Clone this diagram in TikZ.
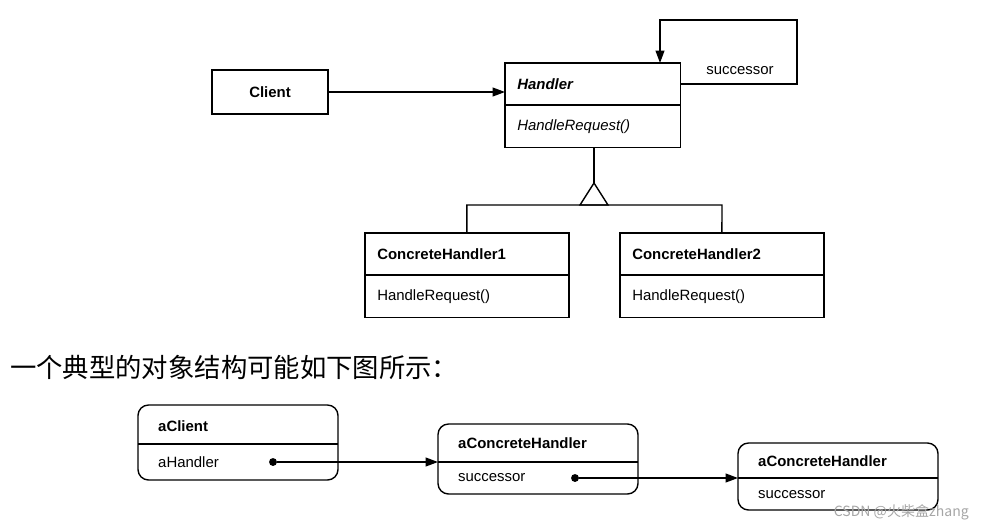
\documentclass[tikz,border=0pt]{standalone}
\usepackage{fontspec}
\setmainfont{Liberation Sans}
\newfontfamily\cjk{Noto Sans CJK SC}
\usetikzlibrary{arrows.meta,positioning}
\tikzset{
  cls/.style = {draw,thick,outer sep=0pt,minimum height=24pt,inner xsep=7pt,inner ysep=0pt,text width=#1-14pt,align=left,font=\fontsize{8.5}{10}\selectfont},
  ref/.style = {-{Triangle[length=7pt,width=5pt]},thick},
  dot/.style = {circle,fill,inner sep=0pt,minimum size=4.5pt},
}
\begin{document}
\begin{tikzpicture}[x=0.02cm,y=-0.02cm]
\useasboundingbox (0,0) rectangle (983,531);
% class structure
\node[draw,thick,minimum width=66pt,minimum height=25pt,font=\fontsize{8.5}{10}\selectfont] (client) at (270,92) {\textbf{Client}};
\node[cls=100pt,anchor=north west] (hname) at (505,63) {\textbf{\textit{Handler}}};
\node[cls=100pt,anchor=north] (hop) at (hname.south) {\textit{HandleRequest()}};
\draw[ref] (client.east) -- (client.east -| hname.west);
\coordinate (s1) at (797,88);
\coordinate (s2) at (660,20);
\draw[ref] (hname.east) -- (s1 |- hname.east) |- (s2) -- (s2 |- hname.north);
\node[font=\fontsize{8.5}{10}\selectfont] (slab) at (740,71) {successor};
\node[cls=116pt,anchor=north west] (c1name) at (365,233) {\textbf{ConcreteHandler1}};
\node[cls=116pt,anchor=north] (c1op) at (c1name.south) {HandleRequest()};
\node[cls=116pt,anchor=north west] (c2name) at (620,233) {\textbf{ConcreteHandler2}};
\node[cls=116pt,anchor=north] (c2op) at (c2name.south) {HandleRequest()};
\coordinate (tip) at (594,183);
\draw[thick] (hop.south -| tip) -- (tip);
\draw[thick] (tip) -- ++(-14,22) -- ++(28,0) -- cycle;
\draw[thick] (c1name.north) |- (722,205) -- (c2name.north);
% object structure
\node[anchor=west,font=\cjk\fontsize{15}{18}\selectfont] (caption) at (4,367) {一个典型的对象结构可能如下图所示：};
\draw[thick,rounded corners=6pt] (138,405) rectangle (338,480);
\draw[thick,rounded corners=6pt] (438,424) rectangle (638,494);
\draw[thick,rounded corners=6pt] (738,443) rectangle (938,510);
\node[anchor=west,font=\fontsize{8.5}{10}\selectfont\bfseries] (o1n) at (152,426) {aClient};
\node[anchor=west,font=\fontsize{8.5}{10}\selectfont] (o1f) at (152,462) {aHandler};
\draw[thick] (138,444) -- (338,444);
\node[anchor=west,font=\fontsize{8.5}{10}\selectfont\bfseries] (o2n) at (452,443) {aConcreteHandler};
\node[anchor=west,font=\fontsize{8.5}{10}\selectfont] (o2f) at (452,478) {successor};
\draw[thick] (438,462) -- (638,462);
\node[anchor=west,font=\fontsize{8.5}{10}\selectfont\bfseries] (o3n) at (752,461) {aConcreteHandler};
\node[anchor=west,font=\fontsize{8.5}{10}\selectfont] (o3f) at (752,495) {successor};
\draw[thick] (738,478) -- (938,478);
\node[dot] (d1) at (273,462) {};
\node[dot] (d2) at (575,478) {};
\coordinate (e1) at (438,462);
\coordinate (e2) at (738,478);
\draw[ref] (d1) -- (e1);
\draw[ref] (d2) -- (e2);
\node[anchor=east,text=gray!70,font=\cjk\fontsize{8}{10}\selectfont] (wm) at (975,512) {CSDN @火柴盒zhang};
\end{tikzpicture}
\end{document}
